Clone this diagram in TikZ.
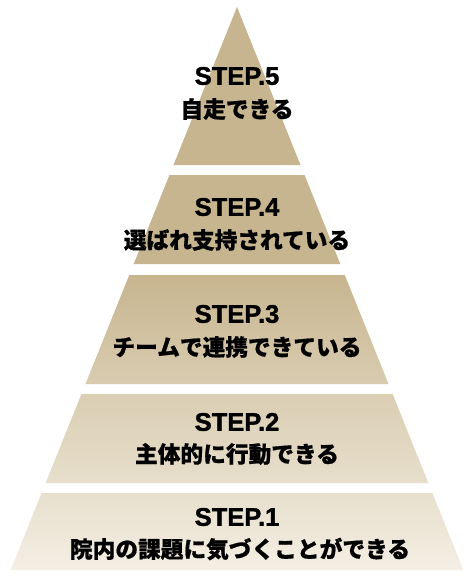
\documentclass[tikz,border=0pt]{standalone}
\usepackage{fontspec}
\newfontfamily\jpfont[FakeBold=0.7]{Noto Sans CJK JP}
\newfontfamily\stepfont[FakeBold=1.4]{Liberation Sans Bold}
\definecolor{tan}{RGB}{199,181,143}
\definecolor{light}{RGB}{244,239,228}
\tikzset{
  steptitle/.style={font=\stepfont\fontsize{25.5}{28}\selectfont, text=black, inner sep=0pt, anchor=center},
  steptext/.style={font=\jpfont\bfseries\fontsize{22.7}{26}\selectfont, text=black, inner sep=0pt, anchor=center}
}
\newcommand{\pyrband}[4]{% top y, bottom y, top colour, bottom colour
  \pgfmathsetmacro{\htop}{0.402*(#1-7)}
  \pgfmathsetmacro{\hbot}{0.402*(#2-7)}
  \shade[top color=#3, bottom color=#4]
    (237-\htop,#1) -- (237+\htop,#1) -- (237+\hbot,#2) -- (237-\hbot,#2) -- cycle;
}
\begin{document}
\begin{tikzpicture}[x=1pt,y=-1pt]
\useasboundingbox[fill=white] (0,0) rectangle (474,578);
% top triangle
\pgfmathsetmacro{\hfive}{0.402*(165-7)}
\fill[tan] (237,7) -- (237+\hfive,165) -- (237-\hfive,165) -- cycle;
\pgfmathsetmacro{\hfa}{0.402*(175-7)}
\pgfmathsetmacro{\hfb}{0.402*(264-7)}
\fill[tan] (237-\hfa,175) -- (237+\hfa,175) -- (237+\hfb,264) -- (237-\hfb,264) -- cycle;
\pyrband{275}{384}{tan}{tan!61!light}
\pyrband{394}{483}{tan!58!light}{tan!29!light}
\pyrband{493}{570}{tan!27!light}{light}
% labels
\node[steptitle] (s5) at (237,76) {STEP.5};
\node[steptext]  (t5) at (237,109) {自走できる};
\node[steptitle] (s4) at (237,207) {STEP.4};
\node[steptext]  (t4) at (237,240) {選ばれ支持されている};
\node[steptitle] (s3) at (237,314) {STEP.3};
\node[steptext]  (t3) at (237,347) {チームで連携できている};
\node[steptitle] (s2) at (237,422) {STEP.2};
\node[steptext]  (t2) at (237,454) {主体的に行動できる};
\node[steptitle] (s1) at (237,517) {STEP.1};
\node[steptext]  (t1) at (240,549) {院内の課題に気づくことができる};
\end{tikzpicture}
\end{document}
